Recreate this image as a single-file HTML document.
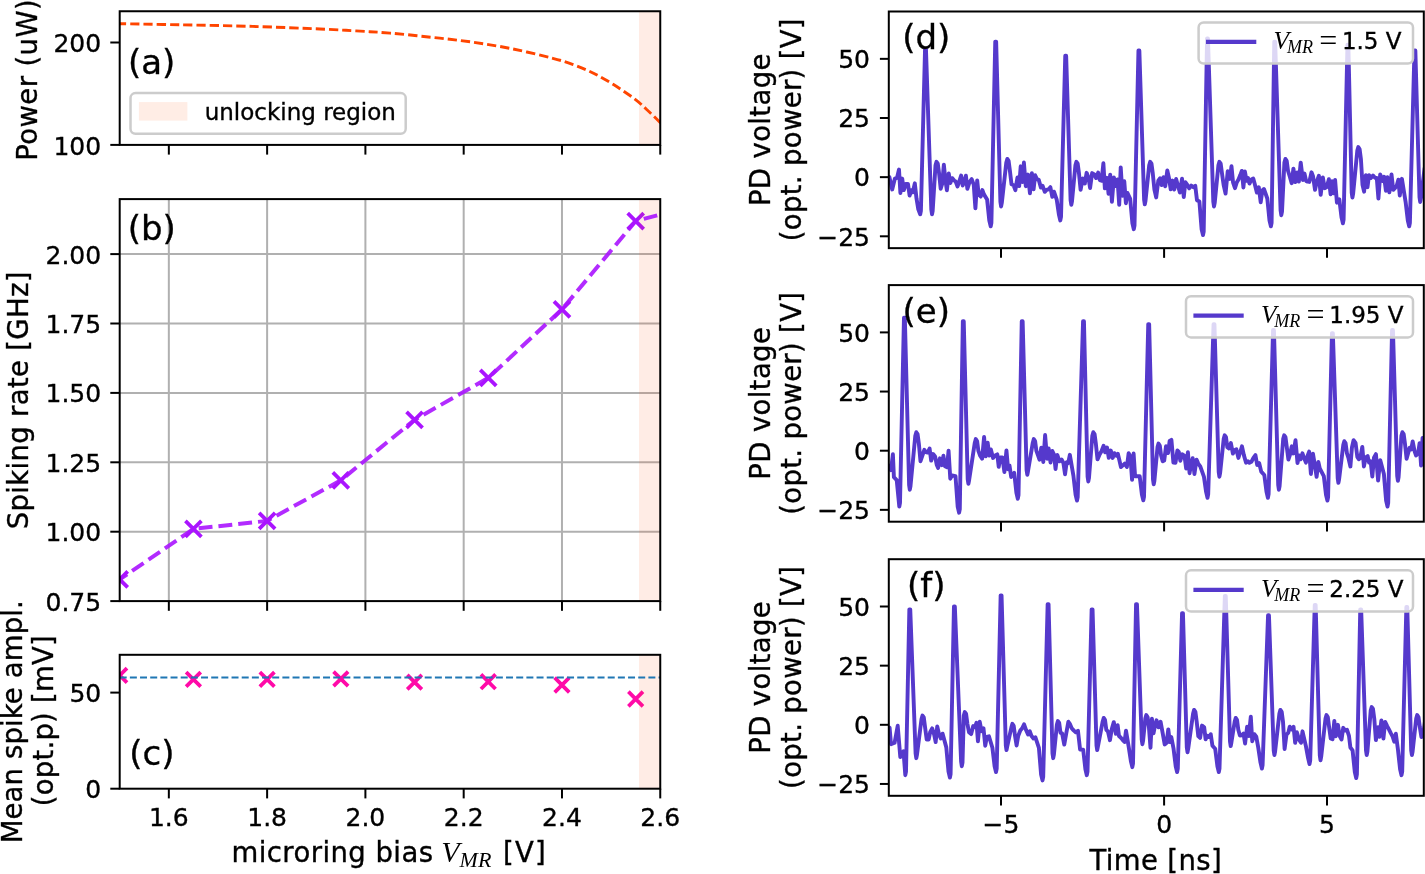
<!DOCTYPE html>
<html><head><meta charset="utf-8"><title>figure</title>
<style>html,body{margin:0;padding:0;background:#fff}svg{display:block}</style></head>
<body>
<svg width="1425" height="874" viewBox="0 0 1425 874" font-family='"DejaVu Sans", "Liberation Sans", sans-serif' fill="#000">
<rect width="1425" height="874" fill="#fff"/>
<g>
<defs>
<clipPath id="ca"><rect x="119.7" y="11.25" width="540.55" height="133.65"/></clipPath>
<clipPath id="cb"><rect x="119.7" y="199.1" width="540.55" height="402"/></clipPath>
<clipPath id="cc"><rect x="119.7" y="654.8" width="540.55" height="133.9"/></clipPath>
</defs>
<rect x="639.0" y="11.25" width="21.25" height="133.65" fill="#ff4500" fill-opacity="0.1"/>
<path d="M119.5,23.7C129.58,23.88 157.83,24.35 180,24.8C202.17,25.25 229.17,25.7 252.5,26.4C275.83,27.1 302.75,28.25 320,29C337.25,29.75 344.33,30.22 356,30.9C367.67,31.58 377.55,32.05 390,33.1C402.45,34.15 417.13,35.72 430.7,37.2C444.27,38.68 457.83,40.07 471.4,42C484.97,43.93 498.53,46.08 512.1,48.8C525.67,51.52 542.62,55.67 552.8,58.3C562.98,60.93 566.42,62.12 573.2,64.6C579.98,67.08 586.72,69.83 593.5,73.2C600.28,76.57 607.12,80.57 613.9,84.8C620.68,89.03 628.78,94.53 634.2,98.6C639.62,102.67 642.17,105.3 646.4,109.2C650.63,113.1 655.33,117.7 659.6,122C663.87,126.3 669.93,132.83 672,135" fill="none" stroke="#ff4500" stroke-width="2.9" stroke-dasharray="9.25 4" stroke-dashoffset="2.5" clip-path="url(#ca)"/>
<rect x="119.7" y="11.25" width="540.55" height="133.65" fill="none" stroke="#000" stroke-width="2"/>
<line x1="168.84" y1="144.9" x2="168.84" y2="154.6" stroke="#000" stroke-width="2"/>
<line x1="267.12" y1="144.9" x2="267.12" y2="154.6" stroke="#000" stroke-width="2"/>
<line x1="365.4" y1="144.9" x2="365.4" y2="154.6" stroke="#000" stroke-width="2"/>
<line x1="463.69" y1="144.9" x2="463.69" y2="154.6" stroke="#000" stroke-width="2"/>
<line x1="561.97" y1="144.9" x2="561.97" y2="154.6" stroke="#000" stroke-width="2"/>
<line x1="660.25" y1="144.9" x2="660.25" y2="154.6" stroke="#000" stroke-width="2"/>
<line x1="110.3" y1="42.5" x2="119.7" y2="42.5" stroke="#000" stroke-width="2"/>
<line x1="110.3" y1="144.9" x2="119.7" y2="144.9" stroke="#000" stroke-width="2"/>
<g stroke="#000" stroke-width="0.35">
<text x="101.2" y="51.9" font-size="25" text-anchor="end" >200</text>
<text x="101.2" y="154.5" font-size="25" text-anchor="end" >100</text>
<text x="151.7" y="74.2" font-size="34" text-anchor="middle" >(a)</text>
<text transform="translate(37,80) rotate(-90)" font-size="27.5" text-anchor="middle"  textLength="161.45">Power (uW)</text>
</g>
<rect x="130.5" y="93.1" width="275.2" height="40.7" rx="5" ry="5" fill="#fff" fill-opacity="0.8" stroke="#ccc" stroke-width="2.5"/>
<rect x="138.9" y="102.1" width="48.5" height="18.5" fill="#ffede5"/>
<g stroke="#000" stroke-width="0.35">
<text x="204.7" y="119.7" font-size="23" text-anchor="start" >unlocking region</text>
</g>
<line x1="168.84" y1="199.1" x2="168.84" y2="601.1" stroke="#b0b0b0" stroke-width="2"/>
<line x1="267.12" y1="199.1" x2="267.12" y2="601.1" stroke="#b0b0b0" stroke-width="2"/>
<line x1="365.4" y1="199.1" x2="365.4" y2="601.1" stroke="#b0b0b0" stroke-width="2"/>
<line x1="463.69" y1="199.1" x2="463.69" y2="601.1" stroke="#b0b0b0" stroke-width="2"/>
<line x1="561.97" y1="199.1" x2="561.97" y2="601.1" stroke="#b0b0b0" stroke-width="2"/>
<line x1="119.7" y1="531.7" x2="660.25" y2="531.7" stroke="#b0b0b0" stroke-width="2"/>
<line x1="119.7" y1="462.3" x2="660.25" y2="462.3" stroke="#b0b0b0" stroke-width="2"/>
<line x1="119.7" y1="392.9" x2="660.25" y2="392.9" stroke="#b0b0b0" stroke-width="2"/>
<line x1="119.7" y1="323.5" x2="660.25" y2="323.5" stroke="#b0b0b0" stroke-width="2"/>
<line x1="119.7" y1="254.1" x2="660.25" y2="254.1" stroke="#b0b0b0" stroke-width="2"/>
<g clip-path="url(#cb)">
<path d="M111.7,571.45L127.7,587.45M111.7,587.45L127.7,571.45" stroke="#aa14ff" stroke-width="3.75" fill="none"/>
<path d="M185.41,520.92L201.41,536.92M185.41,536.92L201.41,520.92" stroke="#aa14ff" stroke-width="3.75" fill="none"/>
<path d="M259.12,512.87L275.12,528.87M259.12,528.87L275.12,512.87" stroke="#aa14ff" stroke-width="3.75" fill="none"/>
<path d="M332.83,472.34L348.83,488.34M332.83,488.34L348.83,472.34" stroke="#aa14ff" stroke-width="3.75" fill="none"/>
<path d="M406.55,411.83L422.55,427.83M406.55,427.83L422.55,411.83" stroke="#aa14ff" stroke-width="3.75" fill="none"/>
<path d="M480.26,369.91L496.26,385.91M480.26,385.91L496.26,369.91" stroke="#aa14ff" stroke-width="3.75" fill="none"/>
<path d="M553.97,301.34L569.97,317.34M553.97,317.34L569.97,301.34" stroke="#aa14ff" stroke-width="3.75" fill="none"/>
<path d="M627.68,213.07L643.68,229.07M627.68,229.07L643.68,213.07" stroke="#aa14ff" stroke-width="3.75" fill="none"/>
<rect x="639.0" y="199.1" width="21.25" height="402" fill="#ff4500" fill-opacity="0.1"/>
<path d="M119.7,579.45 L193.41,528.92 L267.12,520.87 L340.83,480.34 L414.55,419.83 L488.26,377.91 L561.97,309.34 L635.68,221.07 L709.39,201.36" fill="none" stroke="#aa14ff" stroke-opacity="0.9" stroke-width="4" stroke-dasharray="13.9 6" stroke-dashoffset="4.85"/>
</g>
<rect x="119.7" y="199.1" width="540.55" height="402" fill="none" stroke="#000" stroke-width="2"/>
<line x1="168.84" y1="601.1" x2="168.84" y2="610.8" stroke="#000" stroke-width="2"/>
<line x1="267.12" y1="601.1" x2="267.12" y2="610.8" stroke="#000" stroke-width="2"/>
<line x1="365.4" y1="601.1" x2="365.4" y2="610.8" stroke="#000" stroke-width="2"/>
<line x1="463.69" y1="601.1" x2="463.69" y2="610.8" stroke="#000" stroke-width="2"/>
<line x1="561.97" y1="601.1" x2="561.97" y2="610.8" stroke="#000" stroke-width="2"/>
<line x1="660.25" y1="601.1" x2="660.25" y2="610.8" stroke="#000" stroke-width="2"/>
<line x1="110.3" y1="531.7" x2="119.7" y2="531.7" stroke="#000" stroke-width="2"/>
<line x1="110.3" y1="462.3" x2="119.7" y2="462.3" stroke="#000" stroke-width="2"/>
<line x1="110.3" y1="392.9" x2="119.7" y2="392.9" stroke="#000" stroke-width="2"/>
<line x1="110.3" y1="323.5" x2="119.7" y2="323.5" stroke="#000" stroke-width="2"/>
<line x1="110.3" y1="254.1" x2="119.7" y2="254.1" stroke="#000" stroke-width="2"/>
<line x1="110.3" y1="601.1" x2="119.7" y2="601.1" stroke="#000" stroke-width="2"/>
<g stroke="#000" stroke-width="0.35">
<text x="101.2" y="541.2" font-size="25" text-anchor="end" >1.00</text>
<text x="101.2" y="471.8" font-size="25" text-anchor="end" >1.25</text>
<text x="101.2" y="402.4" font-size="25" text-anchor="end" >1.50</text>
<text x="101.2" y="333" font-size="25" text-anchor="end" >1.75</text>
<text x="101.2" y="263.6" font-size="25" text-anchor="end" >2.00</text>
<text x="101.2" y="610.6" font-size="25" text-anchor="end" >0.75</text>
<text x="151.8" y="240.3" font-size="34" text-anchor="middle" >(b)</text>
<text transform="translate(28.4,400.4) rotate(-90)" font-size="27.5" text-anchor="middle"  textLength="257.78">Spiking rate [GHz]</text>
</g>
<g clip-path="url(#cc)">
<path d="M112.4,668.1L127,682.7M112.4,682.7L127,668.1" stroke="#ff0aa8" stroke-width="3.75" fill="none"/>
<path d="M186.11,672.1L200.71,686.7M186.11,686.7L200.71,672.1" stroke="#ff0aa8" stroke-width="3.75" fill="none"/>
<path d="M259.82,672.1L274.42,686.7M259.82,686.7L274.42,672.1" stroke="#ff0aa8" stroke-width="3.75" fill="none"/>
<path d="M333.53,671.6L348.13,686.2M333.53,686.2L348.13,671.6" stroke="#ff0aa8" stroke-width="3.75" fill="none"/>
<path d="M407.25,674.8L421.85,689.4M407.25,689.4L421.85,674.8" stroke="#ff0aa8" stroke-width="3.75" fill="none"/>
<path d="M480.96,674.4L495.56,689M480.96,689L495.56,674.4" stroke="#ff0aa8" stroke-width="3.75" fill="none"/>
<path d="M554.67,677.7L569.27,692.3M554.67,692.3L569.27,677.7" stroke="#ff0aa8" stroke-width="3.75" fill="none"/>
<path d="M628.38,691.7L642.98,706.3M628.38,706.3L642.98,691.7" stroke="#ff0aa8" stroke-width="3.75" fill="none"/>
<rect x="639.0" y="654.8" width="21.25" height="133.9" fill="#ff4500" fill-opacity="0.1"/>
<line x1="119.7" y1="677.5" x2="660.25" y2="677.5" stroke="#1f77b4" stroke-width="2" stroke-dasharray="7 3.167"/>
</g>
<rect x="119.7" y="654.8" width="540.55" height="133.9" fill="none" stroke="#000" stroke-width="2"/>
<line x1="168.84" y1="788.7" x2="168.84" y2="798.4" stroke="#000" stroke-width="2"/>
<line x1="267.12" y1="788.7" x2="267.12" y2="798.4" stroke="#000" stroke-width="2"/>
<line x1="365.4" y1="788.7" x2="365.4" y2="798.4" stroke="#000" stroke-width="2"/>
<line x1="463.69" y1="788.7" x2="463.69" y2="798.4" stroke="#000" stroke-width="2"/>
<line x1="561.97" y1="788.7" x2="561.97" y2="798.4" stroke="#000" stroke-width="2"/>
<line x1="660.25" y1="788.7" x2="660.25" y2="798.4" stroke="#000" stroke-width="2"/>
<line x1="110.3" y1="692.6" x2="119.7" y2="692.6" stroke="#000" stroke-width="2"/>
<line x1="110.3" y1="788.7" x2="119.7" y2="788.7" stroke="#000" stroke-width="2"/>
<g stroke="#000" stroke-width="0.35">
<text x="101.2" y="702.2" font-size="25" text-anchor="end" >50</text>
<text x="101.2" y="798.3" font-size="25" text-anchor="end" >0</text>
<text x="151.9" y="764.7" font-size="34" text-anchor="middle" >(c)</text>
<text x="168.84" y="826" font-size="25" text-anchor="middle" >1.6</text>
<text x="267.12" y="826" font-size="25" text-anchor="middle" >1.8</text>
<text x="365.4" y="826" font-size="25" text-anchor="middle" >2.0</text>
<text x="463.69" y="826" font-size="25" text-anchor="middle" >2.2</text>
<text x="561.97" y="826" font-size="25" text-anchor="middle" >2.4</text>
<text x="660.25" y="826" font-size="25" text-anchor="middle" >2.6</text>
<text transform="translate(22,721.75) rotate(-90)" font-size="27.5" text-anchor="middle"  textLength="243.12">Mean spike ampl.</text>
<text transform="translate(53,720.75) rotate(-90)" font-size="27.5" text-anchor="middle"  textLength="171.06">(opt.p) [mV]</text>
<text x="231.5" y="862" font-size="27.5" textLength="201.5">microring bias</text>
<text x="441.3" y="862" font-family='"Liberation Serif", "DejaVu Serif", serif' font-style="italic" font-size="30" stroke-width="0">V</text>
<text x="459.6" y="867.2" font-family='"Liberation Serif", "DejaVu Serif", serif' font-style="italic" font-size="22" stroke-width="0">MR</text>
<text x="503.1" y="862" font-size="27.5" textLength="42.7">[V]</text>
</g>
<defs>
<clipPath id="cd"><rect x="888.8" y="11.5" width="535.0" height="236.65"/></clipPath>
<clipPath id="ce"><rect x="888.8" y="285.1" width="535.0" height="236.6"/></clipPath>
<clipPath id="cf"><rect x="888.8" y="559.2" width="535.0" height="236.6"/></clipPath>
</defs>
<path d="M886,179.52 L889.4,177.15 L892.2,189.45 L894.9,178.57 L897,177.86 L899,169.58 L900.4,193 L902.2,178.57 L903.8,190.16 L905.9,184.01 L908,184.01 L909.6,195.6 L911.4,190.16 L912.8,192.29 L914.8,183.3 L916.5,198.44 L918.3,209.33 L920.2,214.3 L920.9,210.75 L925.05,48.91 L925.95,48.91 L931.3,209.56 L932,214.3 L932.7,210.75 L935.5,165.32 L936.5,161.77 L937.8,163.66 L939.1,173.6 L940.7,188.81 L942.16,183.85 L943.85,164.79 L945.44,180.11 L946.89,190.22 L948.76,173.45 L950.33,182.98 L952.17,178.14 L954.01,180.28 L955.56,181.28 L957.53,186.43 L959.36,181.03 L961.13,175.56 L962.68,185.56 L964.14,182.31 L965.9,175.75 L967.36,188.79 L969.51,182.18 L971.68,179.08 L973.73,184.69 L975.41,208.26 L977.19,180.46 L978.64,194.21 L980.7,196.56 L982.4,190.05 L983.94,194.36 L987.1,199.54 L989.3,220.45 L990.7,226.36 L991.4,222.81 L995.25,41.58 L996.15,41.58 L1000.4,201.76 L1001.1,206.49 L1001.8,202.94 L1006.3,162.48 L1007.3,158.93 L1008.6,160.82 L1009.9,170.76 L1011.5,184.32 L1013.6,185.22 L1015.36,190.12 L1017.45,177.47 L1019.18,186.02 L1020.7,166.32 L1022.29,182.13 L1023.9,162.55 L1025.78,186.21 L1027.94,174.58 L1029.94,193.39 L1031.88,173.14 L1033.6,189.41 L1035.15,175.17 L1036.9,179.12 L1038.76,179.86 L1040.92,187.61 L1042.62,185.93 L1044.78,191.86 L1046.57,189.98 L1048.36,189.45 L1050.35,187.19 L1052.3,196.78 L1053.99,191.72 L1056.7,199.59 L1058.9,214.53 L1060.3,220.45 L1061,216.9 L1065.25,55.77 L1066.15,55.77 L1070.6,200.1 L1071.3,204.83 L1072,201.28 L1075.4,165.32 L1076.4,161.77 L1077.7,163.66 L1079,173.6 L1080.6,189.8 L1082.68,178.53 L1084.8,183.56 L1086.61,172.82 L1088.5,177.65 L1090.09,187.98 L1092.13,173.08 L1094.32,174.38 L1096.1,178.03 L1098.15,172.61 L1099.83,180.11 L1101.6,180.81 L1103.39,163.24 L1104.86,188.39 L1106.98,177.79 L1108.53,193.73 L1110.19,174.7 L1111.91,201.88 L1113.89,177.38 L1116.02,186.13 L1117.53,179.37 L1119.21,204.86 L1120.72,167.37 L1122.54,195.89 L1124.29,181.29 L1125.89,203.2 L1127.48,193.05 L1130.2,198.87 L1132.4,223.29 L1133.8,229.2 L1134.5,225.65 L1138.45,50.57 L1139.35,50.57 L1144.1,199.63 L1144.8,204.36 L1145.5,200.81 L1149.2,165.32 L1150.2,161.77 L1151.5,163.66 L1152.8,173.6 L1154.4,189.65 L1156.17,197.4 L1158.3,180.7 L1160.13,178.2 L1161.67,185.02 L1163.45,177.12 L1165.27,186.36 L1167.29,170.43 L1168.92,177.7 L1170.72,189.36 L1172.48,180.54 L1174.28,189.51 L1176.11,178.98 L1178.26,186.73 L1179.87,192.51 L1182.02,178.75 L1183.78,197.05 L1185.35,182.14 L1187.5,185.11 L1189.19,188.38 L1191.19,185.68 L1193.3,187.2 L1195.26,185.77 L1196.98,200.26 L1199.4,201.58 L1201.6,229.2 L1203,235.12 L1203.7,231.57 L1207.05,38.5 L1207.95,38.5 L1213.3,201.76 L1214,206.49 L1214.7,202.94 L1218.4,165.32 L1219.4,161.77 L1220.7,163.66 L1222,173.6 L1223.6,184.74 L1225.56,193.48 L1227.73,171.16 L1229.87,178.89 L1231.48,166.24 L1233.03,182.28 L1234.97,188.15 L1236.69,182.6 L1238.36,179.83 L1240.4,174.86 L1241.81,170.95 L1243.42,187.44 L1244.91,171.47 L1246.53,180.71 L1248.02,178.05 L1249.46,183.51 L1251.46,179.52 L1253.26,178.57 L1254.68,183.67 L1256.86,192.64 L1258.79,187.28 L1260.71,202.21 L1262.36,190.49 L1263.94,189 L1267.3,198.49 L1269.5,220.45 L1270.9,226.36 L1271.6,222.81 L1274.25,41.58 L1275.15,41.58 L1280.6,210.51 L1281.3,215.24 L1282,211.69 L1284.4,162.48 L1285.4,158.93 L1286.7,160.82 L1288,170.76 L1289.6,175.96 L1291.67,183.23 L1293.41,168.6 L1295.35,182.13 L1297.12,172.46 L1298.87,181.51 L1300.71,162.61 L1302.89,180.05 L1304.51,173.58 L1306.11,180.9 L1307.62,181.68 L1309.34,181.94 L1311.5,172.29 L1313.03,176.17 L1315.04,189.89 L1316.83,181.35 L1318.89,175.78 L1320.7,194.77 L1322.83,177.35 L1324.69,188.16 L1326.73,187.12 L1328.89,179.17 L1330.59,194.22 L1332.03,181.2 L1333.64,193.36 L1335.1,180.01 L1336.92,202.69 L1339.3,199.35 L1341.5,217.37 L1342.9,223.29 L1343.6,219.74 L1347.45,44.65 L1348.35,44.65 L1351.7,192.77 L1352.4,197.5 L1353.1,193.95 L1357.3,150.65 L1358.3,147.1 L1359.6,148.99 L1360.9,158.93 L1362.5,184.92 L1364.08,191.67 L1365.85,175.1 L1367.48,187.19 L1369,175.16 L1370.85,178.03 L1373.03,175.46 L1375,177.75 L1376.77,177.87 L1378.42,198.59 L1380.2,174.33 L1382.4,180.92 L1384.11,176.74 L1385.92,190.87 L1387.43,177.21 L1389.39,192.38 L1391.51,174.43 L1393.24,189.83 L1394.97,188.06 L1396.63,185.98 L1398.35,179.68 L1399.8,195.45 L1401.9,178.81 L1405.6,201.85 L1407.8,220.45 L1409.2,226.36 L1409.9,222.81 L1414.45,50.57 L1415.35,50.57 L1419.5,197.26 L1420.2,201.99 L1420.9,198.44 L1424.5,168.87 L1425.5,165.32 L1426.8,167.21 L1428.1,177.15 L1429.7,172.3 L1431.22,186.48 L1433.24,179.31 L1434.98,167.78 L1437.08,179.79 L1438.64,165.68 L1440.54,176.03 L1442.63,191.9 L1444.17,172.67 L1445.79,181.14 L1447.52,168.62 L1449.3,184.26 L1450.76,180.23 L1452.81,185.58 L1454.82,180.16 L1456.66,180.47 L1458.31,177.42 L1460.36,182.38 L1462.07,180.51 L1463.64,184.11 L1465.5,172.74 L1467.45,197.22 L1468.92,181.18 L1470.63,189.46 L1472.68,188.69 L1474.18,193.72 L1476.36,179.84 L1477.81,178.07 L1479.59,197.41 L1481.61,185.7 L1483.1,188.14 L1485.06,184.83 L1487.08,211.57 L1489.22,189.68" fill="none" stroke="#5539cc" stroke-width="3.9" stroke-linejoin="round" stroke-linecap="butt" clip-path="url(#cd)"/>
<rect x="888.8" y="11.5" width="535" height="236.65" fill="none" stroke="#000" stroke-width="2"/>
<line x1="1001" y1="248.15" x2="1001" y2="257.85" stroke="#000" stroke-width="2"/>
<line x1="1164.1" y1="248.15" x2="1164.1" y2="257.85" stroke="#000" stroke-width="2"/>
<line x1="1327" y1="248.15" x2="1327" y2="257.85" stroke="#000" stroke-width="2"/>
<line x1="879.9" y1="58.85" x2="888.8" y2="58.85" stroke="#000" stroke-width="2"/>
<line x1="879.9" y1="118" x2="888.8" y2="118" stroke="#000" stroke-width="2"/>
<line x1="879.9" y1="177.15" x2="888.8" y2="177.15" stroke="#000" stroke-width="2"/>
<line x1="879.9" y1="236.3" x2="888.8" y2="236.3" stroke="#000" stroke-width="2"/>
<g stroke="#000" stroke-width="0.35">
<text x="870" y="68.15" font-size="25" text-anchor="end" >50</text>
<text x="870" y="127.3" font-size="25" text-anchor="end" >25</text>
<text x="870" y="186.45" font-size="25" text-anchor="end" >0</text>
<text x="870" y="245.6" font-size="25" text-anchor="end" >−25</text>
<text x="926.3" y="49" font-size="34" text-anchor="middle" >(d)</text>
<text transform="translate(769.8,129.82) rotate(-90)" font-size="27.5" text-anchor="middle"  textLength="152.53">PD voltage</text>
<text transform="translate(800.8,129.82) rotate(-90)" font-size="27.5" text-anchor="middle"  textLength="222.82">(opt. power) [V]</text>
</g>
<rect x="1198.6" y="22.4" width="214.4" height="41.2" rx="5" ry="5" fill="#fff" fill-opacity="0.8" stroke="#ccc" stroke-width="2.5"/>
<line x1="1206" y1="41.9" x2="1256.3" y2="41.9" stroke="#5539cc" stroke-width="4.2"/>
<text x="1273.6" y="49" font-family='"Liberation Serif", "DejaVu Serif", serif' font-style="italic" font-size="25.5">V</text>
<text x="1286.9" y="53.2" font-family='"Liberation Serif", "DejaVu Serif", serif' font-style="italic" font-size="18">MR</text>
<text x="1319.2" y="51.2" font-family='"Liberation Serif", "DejaVu Serif", serif' font-size="32">=</text>
<text x="1341.9" y="49" font-size="23" stroke="#000" stroke-width="0.35">1.5 V</text>
<path d="M886,462.53 L889.6,467.26 L891,470.1 L892.9,454.25 L893.9,477.2 L896.7,480.04 L899.3,506.54 L900,502.99 L903.95,317.73 L904.85,317.73 L909.1,485.01 L909.8,489.74 L910.5,486.19 L915.3,435.79 L916.3,432.25 L917.6,434.14 L918.9,444.08 L920.5,461.23 L922.46,455.49 L924.33,449.87 L925.9,452.03 L927.67,452.54 L929.59,448.53 L931.19,460.64 L933.15,454.01 L935.09,456.4 L936.7,464.67 L938.12,467.92 L939.86,458.3 L941.85,465.21 L943.41,455.76 L945,466.26 L947.01,467.22 L948.56,450.59 L950.29,478.71 L952.01,475.32 L955.5,476.05 L957.7,506.77 L959.1,512.69 L959.8,509.14 L962.85,321.28 L963.75,321.28 L967.7,479.09 L968.4,483.82 L969.1,480.27 L974.8,442.66 L975.8,439.11 L977.1,441 L978.4,450.94 L980,455.39 L982.12,458.7 L984.1,437.04 L985.65,456.37 L987.65,442.62 L989.35,455.65 L990.88,449.46 L993.05,457.96 L995.22,455.5 L997.28,454.34 L998.72,466.89 L1000.27,457.36 L1002.39,457.47 L1004.4,472.03 L1006.45,450.54 L1008.11,469.29 L1009.55,465.66 L1011.19,476.96 L1014.2,472.91 L1016.4,492.81 L1017.8,498.73 L1018.5,495.18 L1021.75,321.28 L1022.65,321.28 L1026.6,470.1 L1027.3,474.83 L1028,471.28 L1032.8,442.66 L1033.8,439.11 L1035.1,441 L1036.4,450.94 L1038,455.31 L1039.49,459.64 L1041.26,447.68 L1043.31,461.98 L1045.11,435.04 L1047.06,458.71 L1048.65,448.41 L1050.53,462.59 L1052.24,450.97 L1054.03,454.67 L1055.55,469.06 L1057.29,454.85 L1059.47,461.32 L1061.58,459.52 L1063.41,463.01 L1065.05,474.32 L1066.66,462.14 L1068.21,463.09 L1069.84,454.85 L1073.4,475.63 L1075.6,494.71 L1077,500.62 L1077.7,497.07 L1083.05,321.28 L1083.95,321.28 L1087.6,476.73 L1088.3,481.46 L1089,477.91 L1092.3,435.79 L1093.3,432.25 L1094.6,434.14 L1095.9,444.08 L1097.5,459.38 L1099.42,454.9 L1101.48,451.24 L1103.61,445.83 L1105.16,452.36 L1107.03,447.46 L1108.79,457.85 L1110.81,450.6 L1112.71,457.97 L1114.4,453.2 L1116.28,455.57 L1117.84,453.76 L1119.39,460.24 L1120.95,467.05 L1122.88,465.31 L1124.71,463.53 L1126.9,467.05 L1128.64,453.21 L1130.37,456.34 L1132.08,479.87 L1133.61,453.5 L1135.08,476.41 L1136.58,476.09 L1139.7,476.3 L1141.9,494.47 L1143.3,500.39 L1144,496.84 L1148.25,324.12 L1149.15,324.12 L1153,479.57 L1153.7,484.3 L1154.4,480.75 L1157.5,447.15 L1158.5,443.6 L1159.8,445.49 L1161.1,455.43 L1162.7,461.34 L1164.22,460.59 L1166.03,446.26 L1168.08,453.1 L1169.64,440.93 L1171.42,439.89 L1173.39,462.47 L1175.48,462.7 L1177.37,450.51 L1178.8,451.87 L1180.33,460.73 L1182.38,454.34 L1184.49,455.86 L1186.15,468.57 L1187.91,452.25 L1189.56,473.19 L1191.27,463.5 L1192.67,458.25 L1194.44,473.95 L1196.51,459.62 L1198.23,463.57 L1200.27,466.32 L1203.9,476.53 L1206.1,491.87 L1207.5,497.78 L1208.2,494.23 L1213.55,324.12 L1214.45,324.12 L1218.7,471.99 L1219.4,476.73 L1220.1,473.18 L1223.7,438.87 L1224.7,435.32 L1226,437.21 L1227.3,447.15 L1228.9,448.38 L1230.88,443.1 L1232.9,453.6 L1234.86,450.03 L1236.36,449.37 L1238.4,457.92 L1240.38,451.46 L1241.98,446.32 L1243.87,455.12 L1246.04,462.67 L1247.91,461.23 L1249.47,462.75 L1251.38,461.8 L1253.42,457.8 L1255.43,455.03 L1257.19,465 L1259.14,463.02 L1261.23,471.61 L1264.3,474.95 L1266.5,491.87 L1267.9,497.78 L1268.6,494.23 L1273.05,330.03 L1273.95,330.03 L1278.2,485.01 L1278.9,489.74 L1279.6,486.19 L1283.2,438.87 L1284.2,435.32 L1285.5,437.21 L1286.8,447.15 L1288.4,459.54 L1289.87,455.06 L1291.76,446.34 L1293.41,453.46 L1295.5,440.24 L1297.5,463 L1299.13,455.36 L1300.57,459.3 L1302.46,453.25 L1304.1,458.1 L1305.93,462.62 L1307.62,455.73 L1309.15,451.61 L1310.91,473.96 L1312.94,453.62 L1314.8,464.72 L1316.61,476.88 L1318.34,462.01 L1319.79,468.47 L1323.8,476.05 L1326,494.71 L1327.4,500.62 L1328.1,497.07 L1331.95,333.11 L1332.85,333.11 L1337.7,478.15 L1338.4,482.88 L1339.1,479.33 L1343.3,444.78 L1344.3,441.24 L1345.6,443.13 L1346.9,453.07 L1348.5,458.22 L1350.39,466.47 L1351.93,447.53 L1353.57,440.22 L1355.54,442.86 L1357.31,456.87 L1358.8,459.28 L1360.23,458.22 L1362.3,446.95 L1363.92,466.47 L1365.73,457.31 L1367.65,456.07 L1369.06,462.62 L1370.65,461.26 L1372.31,476.5 L1373.97,457.75 L1375.93,454.11 L1378.11,480.66 L1380.2,460.11 L1383.9,474.03 L1386.1,500.62 L1387.5,506.54 L1388.2,502.99 L1392.05,330.03 L1392.95,330.03 L1397.2,476.02 L1397.9,480.75 L1398.6,477.2 L1401.4,435.79 L1402.4,432.25 L1403.7,434.14 L1405,444.08 L1406.6,458.74 L1408.06,453.59 L1409.58,447.65 L1411.25,449.43 L1412.68,441.36 L1414.63,451.32 L1416.09,455.51 L1418.14,453.25 L1419.6,443.15 L1421.08,465.53 L1422.57,437.91 L1424.48,456.98 L1426.38,454.22 L1428.39,452.9 L1430.04,457.81 L1431.67,455.24 L1433.36,463.9 L1435.45,441.87 L1436.87,469.11 L1438.55,451.79 L1440.38,459.5 L1442.43,448.85 L1443.84,461.68 L1445.24,451.37 L1447.03,464.07 L1448.71,465.03 L1450.32,457.46 L1452.28,467.06 L1453.77,464.37 L1455.72,466.4 L1457.63,468.39 L1459.74,460.41 L1461.85,464.92 L1463.97,467.59 L1465.67,464.96" fill="none" stroke="#5539cc" stroke-width="3.9" stroke-linejoin="round" stroke-linecap="butt" clip-path="url(#ce)"/>
<rect x="888.8" y="285.1" width="535" height="236.6" fill="none" stroke="#000" stroke-width="2"/>
<line x1="1001" y1="521.7" x2="1001" y2="531.4" stroke="#000" stroke-width="2"/>
<line x1="1164.1" y1="521.7" x2="1164.1" y2="531.4" stroke="#000" stroke-width="2"/>
<line x1="1327" y1="521.7" x2="1327" y2="531.4" stroke="#000" stroke-width="2"/>
<line x1="879.9" y1="332.4" x2="888.8" y2="332.4" stroke="#000" stroke-width="2"/>
<line x1="879.9" y1="391.55" x2="888.8" y2="391.55" stroke="#000" stroke-width="2"/>
<line x1="879.9" y1="450.7" x2="888.8" y2="450.7" stroke="#000" stroke-width="2"/>
<line x1="879.9" y1="509.85" x2="888.8" y2="509.85" stroke="#000" stroke-width="2"/>
<g stroke="#000" stroke-width="0.35">
<text x="870" y="341.7" font-size="25" text-anchor="end" >50</text>
<text x="870" y="400.85" font-size="25" text-anchor="end" >25</text>
<text x="870" y="460" font-size="25" text-anchor="end" >0</text>
<text x="870" y="519.15" font-size="25" text-anchor="end" >−25</text>
<text x="926.3" y="322.6" font-size="34" text-anchor="middle" >(e)</text>
<text transform="translate(769.8,403.4) rotate(-90)" font-size="27.5" text-anchor="middle"  textLength="152.53">PD voltage</text>
<text transform="translate(800.8,403.4) rotate(-90)" font-size="27.5" text-anchor="middle"  textLength="222.82">(opt. power) [V]</text>
</g>
<rect x="1186" y="296.2" width="227" height="41.2" rx="5" ry="5" fill="#fff" fill-opacity="0.8" stroke="#ccc" stroke-width="2.5"/>
<line x1="1193.4" y1="315.7" x2="1243.7" y2="315.7" stroke="#5539cc" stroke-width="4.2"/>
<text x="1261" y="322.8" font-family='"Liberation Serif", "DejaVu Serif", serif' font-style="italic" font-size="25.5">V</text>
<text x="1274.3" y="327" font-family='"Liberation Serif", "DejaVu Serif", serif' font-style="italic" font-size="18">MR</text>
<text x="1306.6" y="325" font-family='"Liberation Serif", "DejaVu Serif", serif' font-size="32">=</text>
<text x="1329.3" y="322.8" font-size="23" stroke="#000" stroke-width="0.35">1.95 V</text>
<path d="M886,731.9 L889.6,727.64 L891,744.2 L894.6,742.78 L897.7,725.75 L900.3,756.98 L903.5,751.3 L905.3,775.2 L906,771.65 L909.35,609.34 L910.25,609.34 L915.6,753.43 L916.3,758.16 L917,754.61 L921.5,719.12 L922.5,715.57 L923.8,717.47 L925.1,727.4 L926.7,739.45 L928.7,739.46 L930.23,731.88 L932.16,728.41 L934.18,734.6 L935.68,742.09 L937.23,726.41 L939.19,734.83 L940.79,738.42 L942.61,733.68 L946.3,747.38 L948.5,771.65 L949.9,777.56 L950.6,774.01 L953.95,606.5 L954.85,606.5 L961.1,761.47 L961.8,766.2 L962.5,762.66 L963.8,715.57 L964.8,712.02 L966.1,713.92 L967.4,723.85 L969,732.25 L971.17,734.06 L973.21,726.04 L974.95,727.2 L976.52,722.76 L977.95,741.39 L979.75,721.8 L981.52,731.2 L983.51,728.38 L985.25,745.74 L986.84,736.89 L988.94,736.24 L992.4,747.79 L994.6,766.2 L996,772.12 L996.7,768.57 L1000.65,595.38 L1001.55,595.38 L1005.8,745.38 L1006.5,750.12 L1007.2,746.57 L1011.4,727.4 L1012.4,723.85 L1013.7,725.75 L1015,735.68 L1016.6,745.52 L1018.25,735.69 L1020.28,730.59 L1022.18,728.27 L1024.08,724.27 L1026.02,729.87 L1028.04,734.45 L1029.83,731.31 L1031.36,735.75 L1033.51,738.55 L1035.35,737.2 L1038.9,747.8 L1041.1,774.49 L1042.5,780.4 L1043.2,776.85 L1047.65,604.13 L1048.55,604.13 L1052.5,753.43 L1053.2,758.16 L1053.9,754.61 L1056.9,724.56 L1057.9,721.01 L1059.2,722.91 L1060.5,732.84 L1062.1,733.28 L1064.26,744.55 L1066.21,733.63 L1068.39,721.72 L1069.84,723.9 L1071.74,728.19 L1073.61,730.35 L1075.77,732.3 L1077.96,730.74 L1080.11,749.61 L1083.2,749.76 L1085.4,769.28 L1086.8,775.2 L1087.5,771.65 L1091.65,609.34 L1092.55,609.34 L1096.5,745.38 L1097.2,750.12 L1097.9,746.57 L1102.7,721.49 L1103.7,717.94 L1105,719.83 L1106.3,729.77 L1107.9,731.36 L1109.95,740.22 L1111.73,729.37 L1113.8,722.13 L1115.88,733.89 L1117.62,725.11 L1119.02,735.98 L1120.66,737.52 L1122.4,739.63 L1124.55,742.03 L1125.99,730.64 L1128.7,746.89 L1130.9,761.24 L1132.3,767.15 L1133,763.6 L1136.05,604.13 L1136.95,604.13 L1141.7,739.47 L1142.4,744.2 L1143.1,740.65 L1145.3,718.65 L1146.3,715.1 L1147.6,716.99 L1148.9,726.93 L1150.5,747.75 L1151.91,718.77 L1153.51,733.26 L1155.03,725.65 L1156.55,720.26 L1158.58,727.37 L1160.61,721.78 L1162.72,733.41 L1164.68,744.45 L1166.67,742.76 L1168.28,729.35 L1169.79,742.1 L1171.31,737.1 L1173.5,748.27 L1175.7,766.2 L1177.1,772.12 L1177.8,768.57 L1182.05,613.12 L1182.95,613.12 L1186.8,747.51 L1187.5,752.25 L1188.2,748.7 L1193.1,713.44 L1194.1,709.89 L1195.4,711.79 L1196.7,721.72 L1198.3,736.2 L1200.07,737.88 L1202.01,725.58 L1204.18,727.3 L1205.6,739.33 L1207.26,735.76 L1209.07,737.06 L1210.74,734.22 L1212.43,745.76 L1215.2,748.77 L1217.4,766.2 L1218.8,772.12 L1219.5,768.57 L1224.85,595.85 L1225.75,595.85 L1230,741.36 L1230.7,746.09 L1231.4,742.54 L1234.7,721.49 L1235.7,717.94 L1237,719.83 L1238.3,729.77 L1239.9,735.5 L1241.74,735.34 L1243.47,733.47 L1245.08,743.51 L1247.12,726.62 L1248.77,735.97 L1250.8,716.61 L1252.24,741.25 L1254.38,734.23 L1256.3,736.79 L1258.3,747.86 L1260.5,762.66 L1261.9,768.57 L1262.6,765.02 L1268.05,615.25 L1268.95,615.25 L1273.7,750.35 L1274.4,755.08 L1275.1,751.54 L1279.4,713.44 L1280.4,709.89 L1281.7,711.79 L1283,721.72 L1284.6,748.97 L1286.48,734.45 L1288.24,732.86 L1289.72,726.74 L1291.86,729.5 L1293.55,726.91 L1295.16,742.85 L1296.89,732.26 L1299.04,739.62 L1301.06,742.81 L1302.51,731.31 L1305.9,746.13 L1308.1,758.16 L1309.5,764.08 L1310.2,760.53 L1314.75,604.84 L1315.65,604.84 L1319.8,755.56 L1320.5,760.29 L1321.2,756.74 L1325.5,718.65 L1326.5,715.1 L1327.8,716.99 L1329.1,726.93 L1330.7,738.45 L1332.54,739.25 L1334.32,721.02 L1335.72,736.36 L1337.91,724.82 L1339.69,736 L1341.55,739.57 L1343.24,727.82 L1345.2,730.62 L1347.04,729.79 L1348.98,735.88 L1350.39,747.51 L1352.6,750.45 L1354.8,772.12 L1356.2,778.03 L1356.9,774.49 L1360.25,609.34 L1361.15,609.34 L1366,750.35 L1366.7,755.08 L1367.4,751.54 L1370.7,710.6 L1371.7,707.05 L1373,708.95 L1374.3,718.88 L1375.9,740.14 L1377.99,727.21 L1379.44,736.78 L1381.38,720.47 L1383.42,738.61 L1385.15,721.88 L1387.18,726.13 L1388.81,729.16 L1390.79,733.17 L1392.66,736.64 L1394.26,741.76 L1395.85,733.75 L1397.9,749.3 L1400.1,769.28 L1401.5,775.2 L1402.2,771.65 L1406.35,606.97 L1407.25,606.97 L1411.2,750.35 L1411.9,755.08 L1412.6,751.54 L1416.2,718.65 L1417.2,715.1 L1418.5,716.99 L1419.8,726.93 L1421.4,737.01 L1423.41,733.23 L1425.04,720.89 L1426.56,720.4 L1428.6,739.87 L1430.42,726.74 L1432.21,736.2 L1434.4,718.87 L1435.84,739.38 L1437.71,711.72 L1439.18,731.93 L1441.05,738.08 L1443.16,733.61 L1444.71,729.96 L1446.25,732.4 L1447.97,735.57 L1449.49,710.57 L1450.98,733.31 L1453.01,727.03 L1454.82,734.5 L1456.92,739.16 L1459.06,734.2 L1460.54,740.71 L1462.04,729.01 L1463.71,739.08 L1465.81,733.49 L1467.97,734.18 L1469.69,737.47 L1471.85,736.23 L1474.02,729.62 L1475.73,743.29 L1477.93,734.92 L1479.36,739.73" fill="none" stroke="#5539cc" stroke-width="3.9" stroke-linejoin="round" stroke-linecap="butt" clip-path="url(#cf)"/>
<rect x="888.8" y="559.2" width="535" height="236.6" fill="none" stroke="#000" stroke-width="2"/>
<line x1="1001" y1="795.8" x2="1001" y2="805.5" stroke="#000" stroke-width="2"/>
<line x1="1164.1" y1="795.8" x2="1164.1" y2="805.5" stroke="#000" stroke-width="2"/>
<line x1="1327" y1="795.8" x2="1327" y2="805.5" stroke="#000" stroke-width="2"/>
<line x1="879.9" y1="606.5" x2="888.8" y2="606.5" stroke="#000" stroke-width="2"/>
<line x1="879.9" y1="665.65" x2="888.8" y2="665.65" stroke="#000" stroke-width="2"/>
<line x1="879.9" y1="724.8" x2="888.8" y2="724.8" stroke="#000" stroke-width="2"/>
<line x1="879.9" y1="783.95" x2="888.8" y2="783.95" stroke="#000" stroke-width="2"/>
<g stroke="#000" stroke-width="0.35">
<text x="870" y="615.8" font-size="25" text-anchor="end" >50</text>
<text x="870" y="674.95" font-size="25" text-anchor="end" >25</text>
<text x="870" y="734.1" font-size="25" text-anchor="end" >0</text>
<text x="870" y="793.25" font-size="25" text-anchor="end" >−25</text>
<text x="926.3" y="596.7" font-size="34" text-anchor="middle" >(f)</text>
<text transform="translate(769.8,677.5) rotate(-90)" font-size="27.5" text-anchor="middle"  textLength="152.53">PD voltage</text>
<text transform="translate(800.8,677.5) rotate(-90)" font-size="27.5" text-anchor="middle"  textLength="222.82">(opt. power) [V]</text>
</g>
<rect x="1186" y="570.3" width="227" height="41.3" rx="5" ry="5" fill="#fff" fill-opacity="0.8" stroke="#ccc" stroke-width="2.5"/>
<line x1="1193.4" y1="589.8" x2="1243.7" y2="589.8" stroke="#5539cc" stroke-width="4.2"/>
<text x="1261" y="596.9" font-family='"Liberation Serif", "DejaVu Serif", serif' font-style="italic" font-size="25.5">V</text>
<text x="1274.3" y="601.1" font-family='"Liberation Serif", "DejaVu Serif", serif' font-style="italic" font-size="18">MR</text>
<text x="1306.6" y="599.1" font-family='"Liberation Serif", "DejaVu Serif", serif' font-size="32">=</text>
<text x="1329.3" y="596.9" font-size="23" stroke="#000" stroke-width="0.35">2.25 V</text>
<g stroke="#000" stroke-width="0.35">
<text x="1001" y="832.8" font-size="25" text-anchor="middle" >−5</text>
<text x="1164.1" y="832.8" font-size="25" text-anchor="middle" >0</text>
<text x="1327" y="832.8" font-size="25" text-anchor="middle" >5</text>
<text x="1155.6" y="870" font-size="27.5" text-anchor="middle" textLength="132.11">Time [ns]</text>
</g>
</g>
</svg>
</body></html>
